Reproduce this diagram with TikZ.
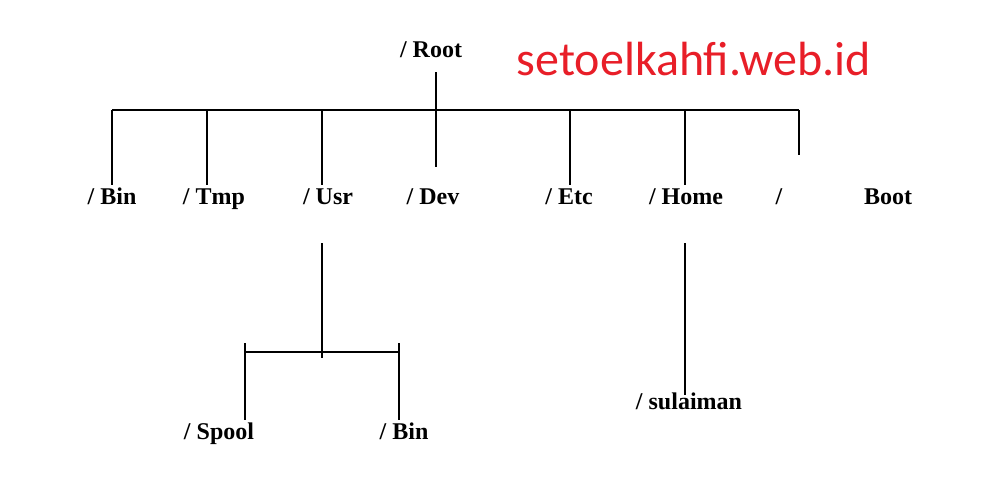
\documentclass[tikz,border=0pt]{standalone}
\usepackage{fontspec}
\setmainfont{Liberation Serif}
\newfontfamily\webfont{Carlito}
\begin{document}
\begin{tikzpicture}[x=1pt,y=-1pt,
  lbl/.style={font=\bfseries\fontsize{24}{28}\selectfont, inner sep=0pt, anchor=base},
  ln/.style={line width=1.6pt}]
\useasboundingbox[fill=white] (0,0) rectangle (986,477);
\node[lbl] (root) at (431,57) {/ Root};
\node[font=\webfont\fontsize{48}{52}\selectfont, text={rgb,255:red,232;green,30;blue,40}, inner sep=0pt, anchor=base] (web) at (694,75) {setoelkahfi.web.id};
\node[lbl] (bin) at (112,204) {/ Bin};
\node[lbl] (tmp) at (214,204) {/ Tmp};
\node[lbl] (usr) at (328,204) {/ Usr};
\node[lbl] (dev) at (433,204) {/ Dev};
\node[lbl] (etc) at (569,204) {/ Etc};
\node[lbl] (home) at (686,204) {/ Home};
\node[lbl] (sl) at (779,204) {/};
\node[lbl] (boot) at (888,204) {Boot};
\node[lbl] (spool) at (219,439) {/ Spool};
\node[lbl] (bin2) at (404,439) {/ Bin};
\node[lbl] (sul) at (689,409) {/ sulaiman};
\coordinate (rt) at (436,72);
\coordinate (rb) at (436,167);
\coordinate (hl) at (112,110);
\coordinate (hr) at (799,110);
\draw[ln] (rt) -- (rb);
\draw[ln] (hl) -- (hr);
\foreach \x/\e in {112/185,207/185,322/185,570/185,685/185,799/155}
  \draw[ln] (\x,110) -- (\x,\e);
\coordinate (ut) at (322,243);
\coordinate (ub) at (322,358);
\draw[ln] (ut) -- (ub);
\draw[ln] (245,352) -- (399,352);
\draw[ln] (245,343) -- (245,420);
\draw[ln] (399,343) -- (399,420);
\coordinate (ht) at (685,243);
\coordinate (hb) at (685,395);
\draw[ln] (ht) -- (hb);
\end{tikzpicture}
\end{document}
